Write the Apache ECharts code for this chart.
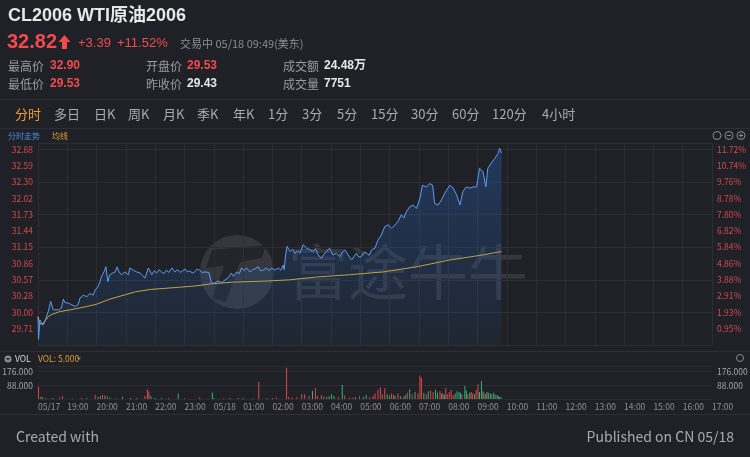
<!DOCTYPE html>
<html><head><meta charset="utf-8">
<script src="https://cdn.jsdelivr.net/npm/echarts@6/dist/echarts.min.js"></script>
<style>html,body{margin:0;padding:0;background:#1f2126;}#c{width:750px;height:457px;}</style>
</head><body><div id="c"></div>
<script>
// ---------- data ----------
const xTickLabels = ['05/17','19:00','20:00','21:00','22:00','23:00','05/18','01:00','02:00','03:00','04:00','05:00','06:00','07:00','08:00','09:00','10:00','11:00','12:00','13:00','14:00','15:00','16:00','17:00'];
const priceTickLabels = ['', '29.71', '30.00', '30.28', '30.57', '30.86', '31.15', '31.44', '31.73', '32.02', '32.30', '32.59', '32.88'];
const pctTickLabels = ['', '0.95%', '1.93%', '2.91%', '3.88%', '4.86%', '5.84%', '6.82%', '7.80%', '8.78%', '9.76%', '10.74%', '11.72%'];
const volTickLabels = ['', '88.000', '176.000'];

// minutes since 05/17 18:00
const priceMinutes = [0,1,4,10,14,21,26,31,35,42,48,52,55,62,69,76,82,86,93,100,106,113,117,123,127,130,135,139,143,147,153,158,162,166,171,178,185,188,195,202,209,214,219,226,233,238,243,248,253,258,263,268,274,280,286,291,296,301,306,311,316,321,326,331,336,342,346,350,355,362,367,372,377,383,389,396,400,407,412,417,422,427,434,439,444,451,456,461,468,473,478,485,492,497,502,504,507,510,516,521,526,531,536,543,550,557,563,568,574,580,587,592,597,604,611,618,623,628,635,642,647,652,657,662,668,673,678,683,690,696,703,710,717,724,731,737,744,749,754,761,768,775,782,787,795,802,808,812,819,826,833,843,850,857,864,870,877,884,891,898,904,911,917,921,928,935,942,945,949];
const prices = [29.93,29.53,29.87,29.78,29.84,30.02,30.20,30.05,30.02,30.05,30.08,30.24,30.18,30.17,30.14,30.11,30.14,30.26,30.31,30.28,30.34,30.31,30.40,30.46,30.55,30.64,30.72,30.81,30.55,30.67,30.70,30.72,30.81,30.72,30.67,30.72,30.67,30.79,30.75,30.72,30.70,30.66,30.61,30.79,30.67,30.74,30.70,30.76,30.72,30.69,30.75,30.71,30.79,30.72,30.76,30.71,30.74,30.77,30.72,30.74,30.70,30.72,30.77,30.75,30.71,30.72,30.74,30.71,30.52,30.52,30.56,30.55,30.53,30.58,30.61,30.70,30.64,30.72,30.69,30.79,30.74,30.79,30.72,30.76,30.77,30.81,30.74,30.75,30.79,30.74,30.79,30.75,30.79,30.75,30.84,30.76,31.02,31.17,31.08,31.12,31.05,31.09,31.05,31.20,31.14,31.11,31.08,31.13,31.02,30.96,31.05,31.09,31.14,31.02,31.05,30.99,31.06,31.11,31.02,30.93,30.99,31.05,30.98,30.99,31.07,31.05,31.01,31.11,31.14,31.28,31.37,31.52,31.55,31.49,31.55,31.61,31.73,31.67,31.78,31.87,31.90,31.84,32.02,32.25,32.22,32.28,32.25,31.93,31.90,31.99,32.11,32.25,32.20,32.08,31.90,32.14,32.22,32.20,32.22,32.22,32.55,32.49,32.22,32.55,32.64,32.72,32.81,32.90,32.82];

const avgMinutes = [0,4,10,21,28,45,72,100,120,147,180,200,230,260,290,320,355,400,434,470,515,570,638,707,775,843,911,949];
const avgPrices = [29.93,29.80,29.81,29.93,29.97,30.02,30.06,30.11,30.15,30.24,30.32,30.37,30.41,30.43,30.45,30.47,30.51,30.54,30.55,30.56,30.58,30.63,30.67,30.72,30.81,30.93,31.02,31.08];

const volMinutes = [1,6,9,16,44,50,89,117,123,128,132,137,142,147,173,202,219,224,227,231,253,267,287,331,357,393,420,452,469,488,509,513,540,546,562,568,572,580,591,601,606,623,628,638,666,679,696,701,710,715,724,731,737,748,761,782,785,790,799,809,814,823,829,835,842,850,858,865,874,880,887,894,901,908,913,919,926,933,940,945,
  30,70,100,160,190,240,300,360,380,410,440,480,520,530,555,585,596,615,645,
  650,658,672,686,690,705,720,728,742,752,756,766,772,778,795,804,818,826,832,838,846,854,862,868,877,884,890,897,904,911,916,922,929,936,943,948];
const volValues = [78,15,12,8,10,18,8,27,15,20,25,22,18,10,14,8,20,63,48,20,8,8,36,10,42,8,8,109,6,10,200,15,32,30,53,69,20,25,15,30,20,90,22,10,15,12,60,74,69,30,36,20,36,15,63,151,137,40,50,45,60,50,35,70,45,25,50,40,84,30,45,30,95,116,40,45,35,40,25,10,
  6,5,6,5,6,8,5,6,5,6,5,7,10,12,20,15,18,12,10,
  12,18,25,20,35,30,22,28,18,25,40,30,45,35,30,55,40,35,25,30,60,35,45,30,55,40,35,60,45,50,30,40,30,28,20,15];
const volUp = [1,0,0,1,1,1,1,1,0,1,1,0,1,0,0,1,1,1,1,0,0,1,0,1,0,1,0,1,1,1,1,1,1,1,0,1,1,1,1,0,0,0,1,1,0,1,1,1,1,0,1,0,1,1,0,1,1,0,0,1,0,1,0,1,1,1,0,0,0,1,1,0,1,0,1,0,0,0,0,1,
  0,1,0,1,0,0,1,0,1,0,1,1,1,1,1,0,0,1,1,
  0,1,0,1,1,1,0,1,0,0,1,1,0,1,1,1,0,1,0,1,1,0,0,1,0,0,1,1,0,0,1,0,1,0,0,0];

// ---------- chart ----------
const FONT = "'Noto Sans CJK SC','Noto Sans',sans-serif";
const FONT_NUM = "'Liberation Sans','Noto Sans CJK SC',sans-serif";
const BG = '#1f2126';
const RED = '#f24b4f';
const GREEN = '#2fb574';
const GRAY = '#9a9da3';
const Y_MIN = 29.43, Y_STEP = 0.2875, Y_MAX = 32.995;
const V_STEP = 88, V_MAX = 212;

function tickFmt(labels, min, step) {
  return function (v) {
    const i = Math.round((v - min) / step);
    if (Math.abs(min + i * step - v) > 1e-6) return '';
    return labels[i] || '';
  };
}
function T(text, x, y, size, color, weight, align, fam) {
  return { type: 'text', x: x, y: y, silent: true, z: 10,
    style: { text: text, fill: color, fontSize: size, fontWeight: weight || 'normal',
      fontFamily: fam || FONT, align: align || 'left', verticalAlign: 'middle' } };
}
function L(x1, y1, x2, y2, c) {
  return { type: 'line', silent: true, shape: { x1: x1, y1: y1, x2: x2, y2: y2 },
    style: { stroke: c || '#2c2f36', lineWidth: 1 } };
}

const tabs = [['分时',15],['多日',54],['日K',94],['周K',128],['月K',163],['季K',197],['年K',233],['1分',268],['3分',302],['5分',337],['15分',371],['30分',411],['60分',452],['120分',492],['4小时',542]];

const graphics = [
  // watermark
  { type: 'circle', silent: true, z: 0, shape: { cx: 237, cy: 272, r: 37 }, style: { fill: 'rgba(255,255,255,0.1)' } },
  { type: 'polygon', silent: true, z: 0, shape: { points: [[212,250],[266,245],[262,258],[240,262],[226,302],[212,298],[224,266],[206,268]] }, style: { fill: 'rgba(31,33,38,0.8)' } },
  { type: 'text', silent: true, z: 0, x: 288, y: 272, style: { text: '富途牛牛', fill: 'rgba(255,255,255,0.1)', fontSize: 60, fontFamily: FONT, verticalAlign: 'middle' } },
  // separators
  L(0, 99.5, 750, 99.5), L(0, 128.5, 750, 128.5), L(0, 351.5, 750, 351.5), L(0, 414.5, 750, 414.5),
  // header
  T('CL2006 WTI原油2006', 8, 16, 18, '#e6e7e9', 'bold', 'left', FONT_NUM),
  T('32.82', 7, 42, 20, RED, 'bold', 'left', FONT_NUM),
  { type: 'polygon', silent: true, z: 10, shape: { points: [[64.5,35],[70.5,42],[67,42],[67,49],[62,49],[62,42],[58.5,42]] }, style: { fill: RED } },
  T('+3.39', 78, 43, 13, RED, 'normal', 'left', FONT_NUM),
  T('+11.52%', 117, 43, 13, RED, 'normal', 'left', FONT_NUM),
  T('交易中 05/18 09:49(美东)', 180, 44, 11, '#8a8d93'),
  T('最高价', 8, 66, 12, GRAY), T('32.90', 50, 66, 12, RED, 'bold', 'left', FONT_NUM),
  T('开盘价', 146, 66, 12, GRAY), T('29.53', 187, 66, 12, RED, 'bold', 'left', FONT_NUM),
  T('成交额', 283, 66, 12, GRAY), T('24.48万', 324, 66, 12, '#e6e7e9', 'bold', 'left', FONT_NUM),
  T('最低价', 8, 84, 12, GRAY), T('29.53', 50, 84, 12, RED, 'bold', 'left', FONT_NUM),
  T('昨收价', 146, 84, 12, GRAY), T('29.43', 187, 84, 12, '#e6e7e9', 'bold', 'left', FONT_NUM),
  T('成交量', 283, 84, 12, GRAY), T('7751', 324, 84, 12, '#e6e7e9', 'bold', 'left', FONT_NUM),
  // chart legend / tools
  T('分时走势', 8, 136, 8, '#4a8fe0'), T('均线', 52, 136, 8, '#e0a030'),
  { type: 'circle', silent: true, shape: { cx: 717, cy: 135.5, r: 4 }, style: { fill: 'none', stroke: '#8a8d93', lineWidth: 1 } },
  { type: 'circle', silent: true, shape: { cx: 729, cy: 135.5, r: 4 }, style: { fill: 'none', stroke: '#8a8d93', lineWidth: 1 } },
  L(727, 135.5, 731, 135.5, '#8a8d93'),
  { type: 'circle', silent: true, shape: { cx: 741, cy: 135.5, r: 4 }, style: { fill: 'none', stroke: '#8a8d93', lineWidth: 1 } },
  L(739, 135.5, 743, 135.5, '#8a8d93'), L(741, 133.5, 741, 137.5, '#8a8d93'),
  // VOL header
  { type: 'circle', silent: true, shape: { cx: 8, cy: 359, r: 3.5 }, style: { fill: '#8a8d93' } },
  { type: 'polygon', silent: true, shape: { points: [[6,358],[10,358],[8,360.5]] }, style: { fill: BG } },
  T('VOL', 15, 359, 8.5, '#d8d9dc'),
  T('VOL: 5.000', 38, 359, 8.5, '#e0a030'),
  { type: 'polygon', silent: true, shape: { points: [[77,357.5],[81,357.5],[79,360]] }, style: { fill: GREEN } },
  { type: 'circle', silent: true, shape: { cx: 740, cy: 358, r: 3.5 }, style: { fill: 'none', stroke: '#8a8d93', lineWidth: 1 } },
  // footer
  T('Created with', 16, 437, 14, '#a9abb0'),
  T('Published on CN 05/18', 734, 437, 14, '#a9abb0', 'normal', 'right')
];
tabs.forEach((t, i) => graphics.push(T(t[0], t[1], 114, 13, i === 0 ? '#f0a030' : '#a8abb0')));

const chart = echarts.init(document.getElementById('c'), null, { renderer: 'canvas' });
const axisLabelBase = { fontFamily: FONT, fontSize: 8.5 };
const gridLineStyle = { color: '#2b2e35', width: 1 };

chart.setOption({
  backgroundColor: BG,
  animation: false,
  grid: [
    { left: 38, width: 674, top: 143, height: 202, outerBoundsMode: 'none', containLabel: false },
    { left: 38, width: 674, top: 366, height: 33, outerBoundsMode: 'none', containLabel: false }
  ],
  xAxis: [
    { type: 'value', gridIndex: 0, min: 0, max: 1380, interval: 60,
      axisLine: { show: false }, axisTick: { show: false }, axisLabel: { show: false },
      splitLine: { show: true, lineStyle: gridLineStyle } },
    { type: 'value', gridIndex: 1, min: 0, max: 1380, interval: 60,
      axisLine: { show: false }, axisTick: { show: false },
      axisLabel: Object.assign({}, axisLabelBase, { color: '#8e9197', align: 'left', margin: 4,
        showMinLabel: true, showMaxLabel: true,
        formatter: function (v) { return xTickLabels[Math.round(v / 60)] || ''; } }),
      splitLine: { show: false } }
  ],
  yAxis: [
    { type: 'value', gridIndex: 0, position: 'left', min: Y_MIN, max: Y_MAX, interval: Y_STEP,
      axisLine: { show: false }, axisTick: { show: false }, splitLine: { show: false },
      axisLabel: Object.assign({}, axisLabelBase, { color: '#d44a4a', margin: 5,
        showMinLabel: true, showMaxLabel: true, formatter: tickFmt(priceTickLabels, Y_MIN, Y_STEP) }) },
    { type: 'value', gridIndex: 0, position: 'right', min: Y_MIN, max: Y_MAX, interval: Y_STEP,
      axisLine: { show: false }, axisTick: { show: false }, splitLine: { show: false },
      axisLabel: Object.assign({}, axisLabelBase, { color: '#d44a4a', margin: 5,
        showMinLabel: true, showMaxLabel: true, formatter: tickFmt(pctTickLabels, Y_MIN, Y_STEP) }) },
    { type: 'value', gridIndex: 0, position: 'left', min: Y_MIN, max: Y_MAX, interval: Y_STEP * 2,
      axisLine: { show: false }, axisTick: { show: false }, axisLabel: { show: false },
      splitLine: { show: true, lineStyle: gridLineStyle } },
    { type: 'value', gridIndex: 1, position: 'left', min: 0, max: V_MAX, interval: V_STEP,
      axisLine: { show: false }, axisTick: { show: false },
      splitLine: { show: true, lineStyle: { color: '#292c33', width: 1 } },
      axisLabel: Object.assign({}, axisLabelBase, { color: '#a4a7ac', margin: 5,
        showMinLabel: true, showMaxLabel: true, formatter: tickFmt(volTickLabels, 0, V_STEP) }) },
    { type: 'value', gridIndex: 1, position: 'right', min: 0, max: V_MAX, interval: V_STEP,
      axisLine: { show: false }, axisTick: { show: false }, splitLine: { show: false },
      axisLabel: Object.assign({}, axisLabelBase, { color: '#a4a7ac', margin: 5,
        showMinLabel: true, showMaxLabel: true, formatter: tickFmt(volTickLabels, 0, V_STEP) }) }
  ],
  series: [
    { type: 'line', xAxisIndex: 0, yAxisIndex: 0, name: '均线', z: 3,
      data: avgMinutes.map((m, i) => [m, avgPrices[i]]),
      showSymbol: false, smooth: false,
      lineStyle: { color: '#e3b02c', width: 1 } },
    { type: 'line', xAxisIndex: 0, yAxisIndex: 0, name: '分时', z: 4,
      data: priceMinutes.map((m, i) => [m, prices[i]]),
      showSymbol: false, smooth: false,
      lineStyle: { color: '#5b9cf2', width: 1 },
      areaStyle: { origin: 'start', color: new echarts.graphic.LinearGradient(0, 0, 0, 1, [
        { offset: 0, color: 'rgba(40,95,180,0.55)' },
        { offset: 1, color: 'rgba(40,95,180,0.12)' }]) } },
    { type: 'bar', xAxisIndex: 1, yAxisIndex: 3, name: 'VOL', barWidth: 1, z: 4,
      data: volMinutes.map((m, i) => ({ value: [m, volValues[i]],
        itemStyle: { color: volUp[i] ? '#e2474b' : GREEN } })) }
  ],
  graphic: graphics
});
</script>
</body></html>
